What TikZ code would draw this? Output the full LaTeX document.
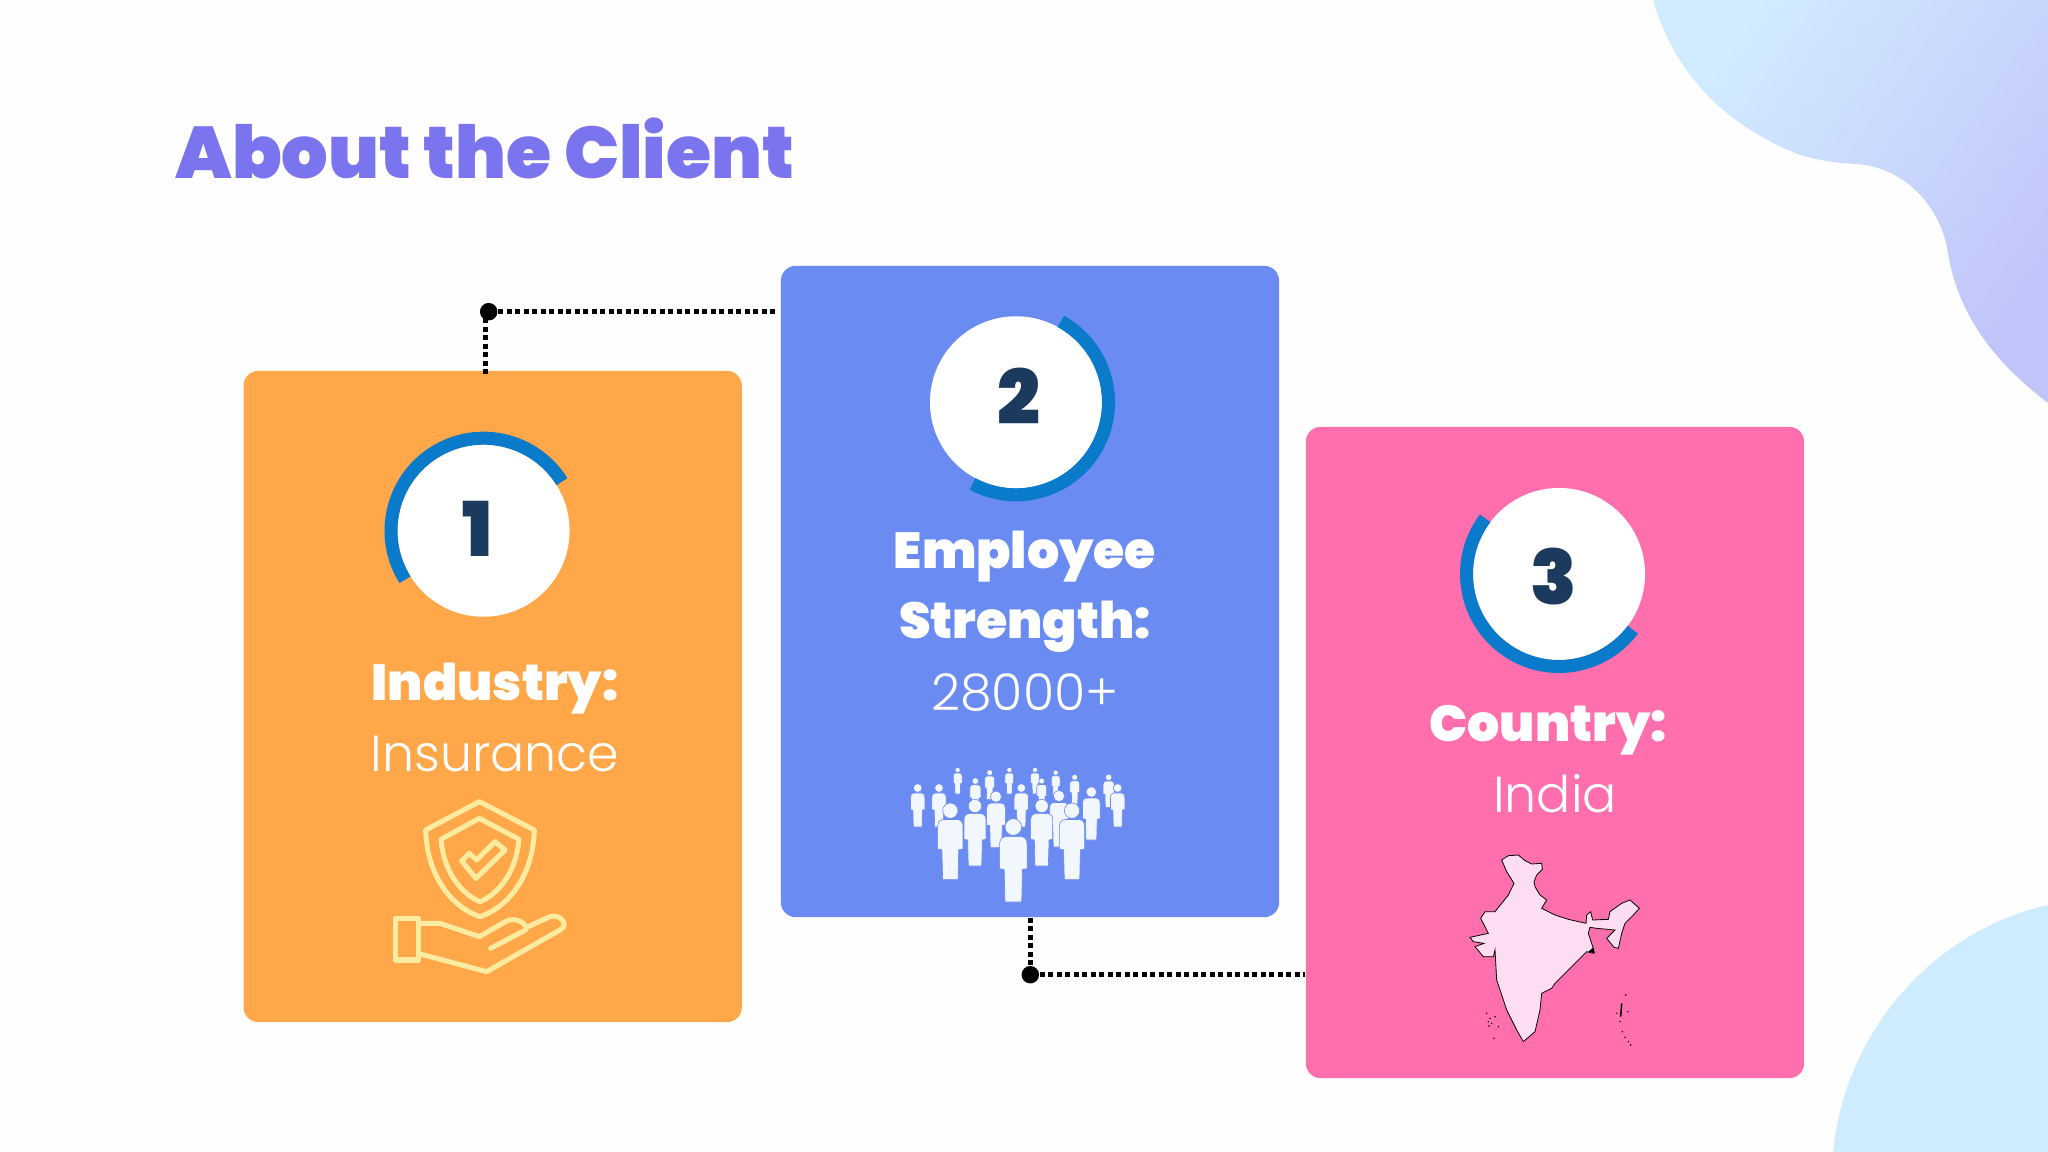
\documentclass[tikz,border=0pt]{standalone}
\usepackage{fontspec}
\setmainfont{Poppins}
\newfontfamily\blackfont{Poppins Black}
\newfontfamily\lightfont{Poppins Light}

\definecolor{titleviolet}{HTML}{7A74EE}
\definecolor{cardorange}{HTML}{FFA749}
\definecolor{cardblue}{HTML}{6A8BF1}
\definecolor{cardpink}{HTML}{FF6FAE}
\definecolor{ringblue}{HTML}{0A7BCB}
\definecolor{digitnavy}{HTML}{1C3A5E}
\definecolor{iconyellow}{HTML}{FDEC9F}
\definecolor{crowdwhite}{HTML}{F2F7FD}
\definecolor{mappink}{HTML}{FDDDF3}
\definecolor{blobsky}{HTML}{D2ECFF}
\definecolor{blobviolet}{HTML}{C1C5FA}
\definecolor{blobpale}{HTML}{CFECFE}

\tikzset{
    card/.style={rectangle, rounded corners=0.15cm, minimum width=4.98cm, minimum height=6.51cm, inner sep=0},
    badge/.style={circle, fill=white, minimum size=1.72cm, inner sep=0},
    ringarc/.style={draw=ringblue, line width=0.13cm},
    digit/.style={text=digitnavy, font=\blackfont\fontsize{21.5}{21.5}\selectfont, inner sep=0, anchor=base},
    headtext/.style={text=white, font=\blackfont\fontsize{14.4}{18}\selectfont, inner sep=0, anchor=base},
    bodytext/.style={text=white, font=\lightfont\fontsize{14.4}{18}\selectfont, inner sep=0, anchor=base},
    joint/.style={circle, fill=black, minimum size=0.175cm, inner sep=0},
    dotlink/.style={line width=0.05cm, dash pattern=on 0.05cm off 0.035cm},
    iconline/.style={draw=iconyellow, line width=0.05cm, line join=round, line cap=round},
    crowdman/.style={fill=crowdwhite, draw=cardblue, line width=0.006cm, line join=round},
}

\begin{document}
\begin{tikzpicture}[x=0.01cm, y=-0.01cm]
    \useasboundingbox (0,0) rectangle (2048,1152);
    \fill [white!99.5!black] (0,0) rectangle (2048,1152);

    \shade [left color=blobsky, right color=blobviolet, shading angle=55] (1653,0) .. controls (1675,75) and (1725,125) .. (1800,155) .. controls (1825,162) and (1840,163) .. (1857,164) .. controls (1905,168) and (1938,205) .. (1947,247) .. controls (1955,305) and (1985,355) .. (2048,403) -- (2048,0) -- cycle;
    \fill [blobpale] (2048,905) .. controls (1935,930) and (1845,1030) .. (1833,1152) -- (2048,1152) -- cycle;

    \node [text=titleviolet, font=\blackfont\fontsize{20.8}{27}\selectfont, inner sep=0, anchor=base west] (title) at (175,179) {About the Client};

    \node [card, fill=cardorange] (industrycard) at (492.7,696.5) {};
    \node [card, fill=cardblue] (staffcard) at (1030,591.5) {};
    \node [card, fill=cardpink] (countrycard) at (1555,752.5) {};

    \node [joint] (jointtop) at (488.7,311.7) {};
    \node [joint] (jointbottom) at (1030.3,974.7) {};
    \coordinate (droptop) at (485.7,318);
    \draw [dotlink, shorten >=0.05cm] (jointtop) -- (jointtop -| staffcard.west);
    \draw [dotlink] (droptop) -- ([yshift=-0.06cm]droptop |- industrycard.north);
    \draw [dotlink] (jointbottom) -- (jointbottom -| countrycard.west);
    \draw [dotlink] (jointbottom) -- (jointbottom |- staffcard.south);

    \node [badge] (badgeone) at (483.5,530.7) {};
    \node [badge] (badgetwo) at (1016,402.3) {};
    \node [badge] (badgethree) at (1559,574) {};
    \draw [ringarc] ([shift={(-32:92.5)}]badgeone.center) arc [start angle=-32, end angle=-212, radius=92.5];
    \draw [ringarc] ([shift={(-61:92.5)}]badgetwo.center) arc [start angle=-61, end angle=118, radius=92.5];
    \draw [ringarc] ([shift={(-143:92.5)}]badgethree.center) arc [start angle=-143, end angle=-323, radius=92.5];
    \node [digit] (digitone) at (478,557) {1};
    \node [digit] (digittwo) at (1019,425) {2};
    \node [digit] (digitthree) at (1554,604) {3};

    \node [headtext] (industry) at (495,700) {Industry:};
    \node [bodytext] (insurance) at (495,771) {Insurance};
    \node [headtext] (employee) at (1025,569) {Employee};
    \node [headtext] (strength) at (1025,639) {Strength:};
    \node [bodytext] (staffcount) at (1025,710) {28000+};
    \node [headtext] (country) at (1548,741) {Country:};
    \node [bodytext] (india) at (1555,812) {India};

    \begin{scope}[shift={(360,780)}, scale=1/3]
        \draw [iconline] (358,65) -- (523,150) .. controls (520,280) and (450,380) .. (360,410) .. controls (270,380) and (200,280) .. (197,150) -- cycle;
        \draw [iconline] (358,115) -- (477,178) .. controls (470,270) and (420,340) .. (360,365) .. controls (300,340) and (250,270) .. (243,178) -- cycle;
        \draw [iconline] (305,243) -- (348,295) -- (435,210) -- (405,185) -- (350,240) -- (328,220) -- cycle;
        \draw [iconline] (105,415) rectangle (175,540);
        \draw [iconline] (175,430) -- (240,430) -- (358,470) -- (440,423) .. controls (465,412) and (490,425) .. (500,442) -- (570,410) .. controls (600,400) and (630,435) .. (600,450) -- (380,575) -- (180,522);
        \draw [iconline] (392,505) -- (497,450);
    \end{scope}

    \foreach \px/\py/\pr in {233/60/8, 329/68/9, 388/60/8, 465/60/8, 527/68/8, 686/82/10, 113/114/13, 177/114/13, 286/93/10, 584/82/9, 713/114/13, 485/93/9, 424/114/13, 348/140/17, 537/138/17, 634/126/16, 285/168/20, 485/168/20, 211/182/23, 576/182/23, 400/231/25} {
        \begin{scope}[shift={(880+\px/3,750+\py/3)}, scale=\pr/3]
            \draw [crowdman] (0,0) circle (1);
            \draw [crowdman] (-.9,1.15) -- (.9,1.15) .. controls (1.5,1.2) and (1.65,1.6) .. (1.65,2.2) -- (1.65,5) -- (1.1,5.1) -- (1,9) -- (-1,9) -- (-1.1,5.1) -- (-1.65,5) -- (-1.65,2.2) .. controls (-1.65,1.6) and (-1.5,1.2) .. (-.9,1.15) -- cycle;
        \end{scope}
    }

    \begin{scope}[shift={(1440,840)}, scale=1/3]
        \draw [fill=mappink, line width=0.008cm] (185,60) -- (205,47) -- (235,45) -- (255,62) -- (275,72) -- (305,70) -- (307,88) -- (290,105) -- (282,125) -- (285,140) -- (300,165) -- (320,180) -- (305,205) -- (345,225) -- (385,238) -- (438,250) -- (440,225) -- (452,215) -- (458,240) -- (505,238) -- (510,215) -- (545,190) -- (570,180) -- (598,205) -- (580,225) -- (555,250) -- (545,280) -- (535,325) -- (522,322) -- (500,295) -- (525,270) -- (470,265) -- (450,262) -- (445,280) -- (460,325) -- (460,340) -- (440,335) -- (425,350) -- (395,380) -- (345,430) -- (335,445) -- (305,460) -- (300,510) -- (285,575) -- (250,605) -- (230,570) -- (200,510) -- (170,420) -- (165,330) -- (160,350) -- (130,350) -- (105,320) -- (132,310) -- (100,305) -- (90,292) -- (145,280) -- (122,235) -- (135,215) -- (165,215) -- (205,165) -- (222,130) -- (200,95) -- cycle;
        \fill (445,335) -- (460,322) -- (465,340) -- cycle;
        \draw [line width=0.015cm] (545,490) -- (542,530);
        \foreach \ix/\iy in {557/465, 563/515, 530/520, 540/545, 547/575, 555/592, 565/605, 572/615, 140/520, 150/535, 165/530, 145/545, 155/550, 175/560, 147/558, 162/595} {
            \fill (\ix,\iy) circle (2.5);
        }
    \end{scope}
\end{tikzpicture}
\end{document}
